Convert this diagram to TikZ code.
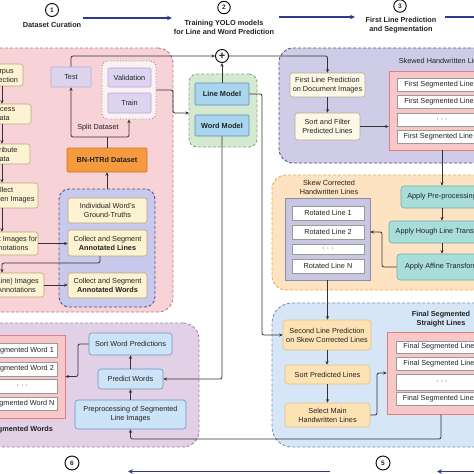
\documentclass[tikz,border=0pt]{standalone}
\usepackage{fontspec}
\setmainfont{Liberation Sans}
\usetikzlibrary{arrows.meta}
\definecolor{txt}{HTML}{222222}
\definecolor{conn}{HTML}{333333}
\definecolor{navy}{HTML}{2E3A8C}
\definecolor{pinkAf}{HTML}{F7D3D8}\definecolor{pinkAd}{HTML}{B87B86}
\definecolor{creamf}{HTML}{FDF3D2}\definecolor{creamd}{HTML}{B9A57A}
\definecolor{lavWf}{HTML}{C8C9EC}\definecolor{lavWd}{HTML}{50548A}
\definecolor{bnf}{HTML}{F59A3E}\definecolor{bnd}{HTML}{D27220}
\definecolor{testf}{HTML}{DDD4F0}\definecolor{testd}{HTML}{B5ACD6}
\definecolor{dotf}{HTML}{FBF0F2}\definecolor{dotd}{HTML}{8C8C8C}
\definecolor{greenf}{HTML}{D4E9CF}\definecolor{greend}{HTML}{86AA7E}
\definecolor{modelf}{HTML}{A9D5EF}\definecolor{modeld}{HTML}{5B8DB3}
\definecolor{purRf}{HTML}{CFCCE7}\definecolor{purRd}{HTML}{54558C}
\definecolor{creamRf}{HTML}{FCF8E6}\definecolor{creamRd}{HTML}{B3AC94}
\definecolor{pinkCf}{HTML}{F8C8C9}\definecolor{pinkCd}{HTML}{E07F80}
\definecolor{itemd}{HTML}{9A9A9A}
\definecolor{orAf}{HTML}{FDE3C2}\definecolor{orAd}{HTML}{E3B44A}
\definecolor{glf}{HTML}{C9C8E2}\definecolor{gld}{HTML}{8C8BAA}
\definecolor{tealf}{HTML}{A8DDD9}\definecolor{teald}{HTML}{6CAAA8}
\definecolor{blAf}{HTML}{D6E6F7}\definecolor{blAd}{HTML}{7A90AE}
\definecolor{ocf}{HTML}{FDE2B4}\definecolor{ocd}{HTML}{E2C28E}
\definecolor{puLf}{HTML}{E2D0E7}\definecolor{puLd}{HTML}{9C8CA8}
\definecolor{lbf}{HTML}{CDE3F7}\definecolor{lbd}{HTML}{6B92BA}
\newcommand\myfs{\fontsize{7.3}{9}\selectfont}
\begin{document}
\begin{tikzpicture}[x=1pt,y=-1pt,
  every node/.style={inner sep=0pt, align=center, text=txt, font=\myfs},
  sz/.style 2 args={minimum width=#1, minimum height=#2},
  area/.style 2 args={draw=#2, fill=#1, line width=0.9pt, dash pattern=on 3pt off 2pt, rounded corners=14pt},
  bx/.style 2 args={draw=#2, fill=#1, line width=0.6pt, rounded corners=2.5pt},
  cream/.style={bx={creamf}{creamd}},
  creamR/.style={bx={creamRf}{creamRd}},
  lav/.style={bx={testf}{testd}, rounded corners=1pt},
  model/.style={bx={modelf}{modeld}, rounded corners=1pt, font=\myfs\bfseries},
  bnbox/.style={bx={bnf}{bnd}, rounded corners=1pt, font=\myfs\bfseries},
  pinkC/.style={draw=pinkCd, fill=pinkCf, line width=0.6pt},
  item/.style={draw=itemd, fill=white, line width=0.5pt},
  tealbox/.style={bx={tealf}{teald}, rounded corners=3pt},
  ocbox/.style={bx={ocf}{ocd}, rounded corners=3pt},
  lbbox/.style={bx={lbf}{lbd}, rounded corners=3pt},
  cn/.style={draw=conn, line width=0.8pt, -{Stealth[length=3.6pt,width=3.2pt]}, rounded corners=2pt},
  cnp/.style={draw=conn, line width=0.8pt},
  navyar/.style={draw=navy, line width=1.2pt, -{Stealth[length=5pt,width=4.5pt]}},
  numc/.style={circle, draw=black, fill=white, line width=0.9pt, minimum size=13pt, font=\fontsize{6.5}{7}\selectfont\bfseries},
  hdr/.style={font=\myfs\bfseries}
]
\useasboundingbox (0,0) rectangle (474,474);
\clip (0,0) rectangle (474,474);
\fill[white] (0,0) rectangle (474,474);

% ---------- header ----------
\node[numc] (n1) at (52,10) {1};
\node[hdr] (h1) at (52,25) {Dataset Curation};
\node[numc, minimum size=12.5pt] (n2) at (224,7.5) {2};
\node[hdr] (h2) at (224,27.5) {Training YOLO models\\for Line and Word Prediction};
\node[numc, minimum size=12.5pt] (n3) at (400,6) {3};
\node[hdr] (h3) at (401,25.5) {First Line Prediction\\and Segmentation};
\coordinate (a1s) at (83,18); \coordinate (a1e) at (172,18);
\coordinate (a2s) at (279,17); \coordinate (a2e) at (355,17);
\coordinate (a3s) at (445,17); \coordinate (a3e) at (480,17);
\draw[navyar] (a1s) -- (a1e);
\draw[navyar] (a2s) -- (a2e);
\draw[navy, line width=1.2pt] (a3s) -- (a3e);

% ---------- containers ----------
\node[area={pinkAf}{pinkAd}, sz={203}{264}, rounded corners=15pt] (dc) at (71.5,180) {};
\node[area={lavWf}{lavWd}, sz={96}{118}, rounded corners=10pt] (lavw) at (107,248) {};
\node[draw=dotd, fill=dotf, dotted, line width=0.9pt, rounded corners=6pt, sz={54}{58}] (dot) at (129,90) {};
\node[area={greenf}{greend}, sz={68}{73}, rounded corners=8pt] (green) at (223,110.5) {};
\node[area={purRf}{purRd}, sz={241}{115}] (fl) at (399.5,105.5) {};
\node[pinkC, sz={106}{79}] (pr1) at (442,110.5) {};
\node[area={orAf}{orAd}, sz={248}{115}] (sc) at (396,232.5) {};
\node[draw=gld, fill=glf, line width=0.6pt, sz={85}{82}] (gl) at (327.5,239) {};
\node[area={blAf}{blAd}, sz={248}{144}, rounded corners=20pt] (fsa) at (396,375) {};
\node[pinkC, sz={108}{82}] (pr2) at (441,373) {};
\node[area={puLf}{puLd}, sz={229}{124}, rounded corners=16pt] (swa) at (84.5,385) {};
\node[pinkC, sz={85}{83}] (pl) at (22.5,376.5) {};

% ---------- dataset curation ----------
\node[cream, sz={42}{22}] (b1) at (2,75) {Corpus\\Collection};
\node[cream, sz={58}{20}] (b2) at (2,114) {Process\\Data};
\node[cream, sz={56}{20}] (b3) at (2,154) {Distribute\\Data};
\node[cream, sz={72}{25}] (b4) at (2,195.5) {Collect\\Handwritten Images};
\node[cream, sz={58}{23}] (b5) at (9,243.5) {Select Images for\\Annotations};
\node[cream, sz={55}{24}] (b6) at (16.5,285) {(Line) Images\\Annotations};
\node[lav, sz={40}{20}] (test) at (71,77) {Test};
\node[lav, sz={43}{19}] (val) at (129.5,77.5) {Validation};
\node[lav, sz={43}{20}] (tr) at (129.5,103) {Train};
\node (split) at (98,128) {Split Dataset};
\node[bnbox, sz={80}{24}] (bn) at (107,160) {BN-HTRd Dataset};
\node[cream, sz={79}{25}] (iwgt) at (107.5,210.5) {Individual Word's\\Ground-Truths};
\node[cream, sz={79}{26}] (csal) at (107.5,243) {Collect and Segment\\\textbf{Annotated Lines}};
\node[cream, sz={79}{25}] (csaw) at (107.5,285.5) {Collect and Segment\\\textbf{Annotated Words}};

% ---------- models ----------
\node[circle, draw=black, fill=white, line width=0.9pt, minimum size=13pt, font=\fontsize{11}{11}\selectfont\bfseries] (plus) at (222,56) {+};
\node[model, sz={54}{22}] (lm) at (222,94) {Line Model};
\node[model, sz={54}{21}] (wm) at (222,125.5) {Word Model};

% ---------- first line prediction ----------
\node (skt) at (442,61) {Skewed Handwritten Lines};
\node[creamR, sz={75}{24}] (flp) at (327.5,85) {First Line Prediction\\on Document Images};
\node[creamR, sz={65}{27}] (sfpl) at (327.5,126.5) {Sort and Filter\\Predicted Lines};
\node[item, sz={90}{13}] (f1) at (442,84.5) {First Segmented Line 1};
\node[item, sz={90}{13}] (f2) at (442,102) {First Segmented Line 2};
\node[item, sz={90}{13}] (f3) at (442,120) {· · ·};
\node[item, sz={90}{13}] (f4) at (442,136.5) {First Segmented Line N};

% ---------- skew correction ----------
\node (sct) at (329,187.5) {Skew Corrected\\Handwritten Lines};
\node[item, sz={72}{14}] (r1) at (328,213) {Rotated Line 1};
\node[item, sz={72}{14}] (r2) at (328,232) {Rotated Line 2};
\node[item, sz={72}{10}] (r3) at (328,249) {· · ·};
\node[item, sz={72}{14}] (r4) at (328,266) {Rotated Line N};
\node[tealbox, sz={82}{22}] (app) at (442,197) {Apply Pre-processing};
\node[tealbox, sz={106}{22}] (ahlt) at (442,232) {Apply Hough Line Transform};
\node[tealbox, sz={90}{26}] (aat) at (442,267) {Apply Affine Transform};

% ---------- final straight lines ----------
\node[font=\myfs\bfseries] (fst) at (441,319.5) {Final Segmented\\Straight Lines};
\node[ocbox, sz={88}{30}] (slp) at (327,335) {Second Line Prediction\\on Skew Corrected Lines};
\node[ocbox, sz={85}{19}] (spl) at (327.5,374.5) {Sort Predicted Lines};
\node[ocbox, sz={85}{24}] (smhl) at (327.5,415) {Select Main\\Handwritten Lines};
\node[item, sz={92}{12.5}] (g1) at (442,347) {Final Segmented Line 1};
\node[item, sz={92}{13}] (g2) at (442,363.5) {Final Segmented Line 2};
\node[item, sz={92}{16}] (g3) at (442,382) {· · ·};
\node[item, sz={92}{13}] (g4) at (442,398.5) {Final Segmented Line N};

% ---------- words ----------
\node[font=\myfs\bfseries] (swt) at (21,430) {Segmented Words};
\node[item, sz={69}{14}] (w1) at (22.5,350.5) {Segmented Word 1};
\node[item, sz={69}{14}] (w2) at (22.5,369) {Segmented Word 2};
\node[item, sz={69}{14}] (w3) at (22.5,386) {· · ·};
\node[item, sz={69}{13}] (w4) at (22.5,403.5) {Segmented Word N};
\node[lbbox, sz={83}{22}] (swp) at (130.5,344) {Sort Word Predictions};
\node[lbbox, sz={65}{20}] (pw) at (130.5,379) {Predict Words};
\node[lbbox, sz={111}{29}] (psli) at (130.5,414.5) {Preprocessing of Segmented\\Line Images};

% ---------- bottom numbers ----------
\node[numc, minimum size=14pt] (n6) at (72,463) {6};
\node[numc, minimum size=14pt] (n5) at (383,463) {5};
\coordinate (b1s) at (330,471.5); \coordinate (b1e) at (128,471.5);
\coordinate (b2s) at (480,471.5); \coordinate (b2e) at (437,471.5);
\draw[navyar, line width=1.8pt] (b1s) -- (b1e);
\draw[navyar, line width=1.8pt] (b2s) -- (b2e);

% ---------- connectors ----------
\draw[cn] (b1.south) -- (b1.south |- b2.north);
\draw[cn] (b2.south) -- (b2.south |- b3.north);
\draw[cn] (b3.south) -- (b3.south |- b4.north);
\draw[cn] (b4.south) -- (b4.south |- b5.north);
\coordinate (c1) at (100,256); \coordinate (c2) at (100,263);
\draw[cn] (c1) -- (c2) -| (b6.north -| b1.south);
\draw[cn] (b5.east) -- (b5.east -| csal.west);
\draw[cn] (b6.east) -- (b6.east -| csaw.west);
\draw[cn] (lavw.north) -- (bn.south);
\coordinate (sp) at (107,137);
\draw[cnp] (bn.north) -- (sp);
\draw[cn] (sp) -| (test.south);
\draw[cn] (sp) -| (dot.south);
\draw[cn] (test.north) -- (test.north |- plus.west) -- (plus.west);
\draw[cn] (lm.north) -- (plus.south);
\draw[cn] (plus.east) -| (flp.north);
\coordinate (d1) at (173,90); \coordinate (gin) at (189,113);
\draw[cn] (dot.east) -- (d1) |- (gin);
\coordinate (l1) at (262,94);
\draw[cn] (lm.east) -- (l1) |- (slp.west);
\draw[cn] (wm.south) |- (pw.east);
\draw[cn] (flp.south) -- (sfpl.north);
\draw[cn] (sfpl.east) -- (sfpl.east -| pr1.west);
\draw[cn] (pr1.south) -- (app.north);
\draw[cn] (app.south) -- (ahlt.north);
\draw[cn] (ahlt.south) -- (aat.north);
\coordinate (t1) at (382,267);
\draw[cn] (aat.west) -- (t1) |- (gl.east |- r2.east);
\draw[cn] (gl.south) -- (gl.south |- slp.north);
\draw[cn] (slp.south) -- (slp.south |- spl.north);
\draw[cn] (spl.south) -- (smhl.north);
\coordinate (s1) at (377,415);
\draw[cn] (smhl.east) -- (s1) |- (pr2.west);
\coordinate (p1) at (441,439);
\draw[cn] (pr2.south) -- (p1) -| (psli.south);
\draw[cn] (psli.north) -- (pw.south);
\draw[cn] (pw.north) -- (swp.south);
\coordinate (q1) at (78,344);
\draw[cn] (swp.west) -- (q1) |- (pl.east);
\end{tikzpicture}
\end{document}
